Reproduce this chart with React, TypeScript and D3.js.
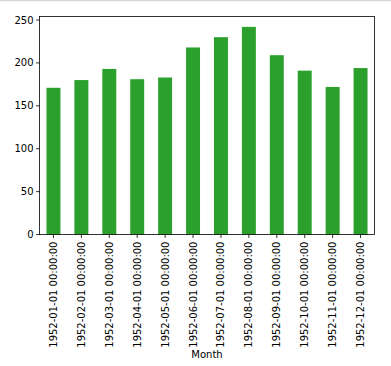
import React from "react";
import * as d3 from "d3";

const months = [
  "1952-01-01 00:00:00", "1952-02-01 00:00:00", "1952-03-01 00:00:00",
  "1952-04-01 00:00:00", "1952-05-01 00:00:00", "1952-06-01 00:00:00",
  "1952-07-01 00:00:00", "1952-08-01 00:00:00", "1952-09-01 00:00:00",
  "1952-10-01 00:00:00", "1952-11-01 00:00:00", "1952-12-01 00:00:00",
];
const passengers = [171, 180, 193, 181, 183, 218, 230, 242, 209, 191, 172, 194];
const yTicks = [0, 50, 100, 150, 200, 250];

const W = 391, H = 366;
const left = 39.5, right = 374.5, top = 16.5, bottom = 234.5;

export default function App() {
  const x = d3.scaleLinear().domain([-0.5, months.length - 0.5]).range([left, right]);
  const y = d3.scaleLinear().domain([0, 242 * 1.05]).range([bottom, top]);
  const bw = x(0.25) - x(-0.25);
  const font = "DejaVu Sans, sans-serif";
  return (
    <svg width={W} height={H} style={{ position: "absolute", left: 0, top: 0 }} fontFamily={font}>
      <rect x={0} y={0} width={W} height={H} fill="#fff" />
      <line x1={0} x2={W} y1={0.5} y2={0.5} stroke="#d8d8d8" strokeWidth={1.5} />
      {passengers.map((v, i) => (
        <rect key={i} x={x(i) - bw / 2} y={y(v)} width={bw} height={y(0) - y(v)} fill="#2ca02c" />
      ))}
      <rect x={left} y={top} width={right - left} height={bottom - top} fill="none" stroke="#000" strokeWidth={0.8} />
      {yTicks.map((t) => (
        <g key={t}>
          <line x1={left - 3.5} x2={left} y1={y(t)} y2={y(t)} stroke="#000" strokeWidth={0.8} />
          <text x={left - 6} y={y(t)} dy="0.35em" textAnchor="end" fontSize={10} fill="#000">{t}</text>
        </g>
      ))}
      {months.map((m, i) => (
        <g key={m}>
          <line x1={x(i)} x2={x(i)} y1={bottom} y2={bottom + 3.5} stroke="#000" strokeWidth={0.8} />
          <text transform={`translate(${x(i)},${bottom + 7}) rotate(-90)`} textAnchor="end" dy="0.35em" fontSize={10} fill="#000">{m}</text>
        </g>
      ))}
      <text x={(left + right) / 2} y={358} textAnchor="middle" fontSize={10} fill="#000">Month</text>
    </svg>
  );
}
